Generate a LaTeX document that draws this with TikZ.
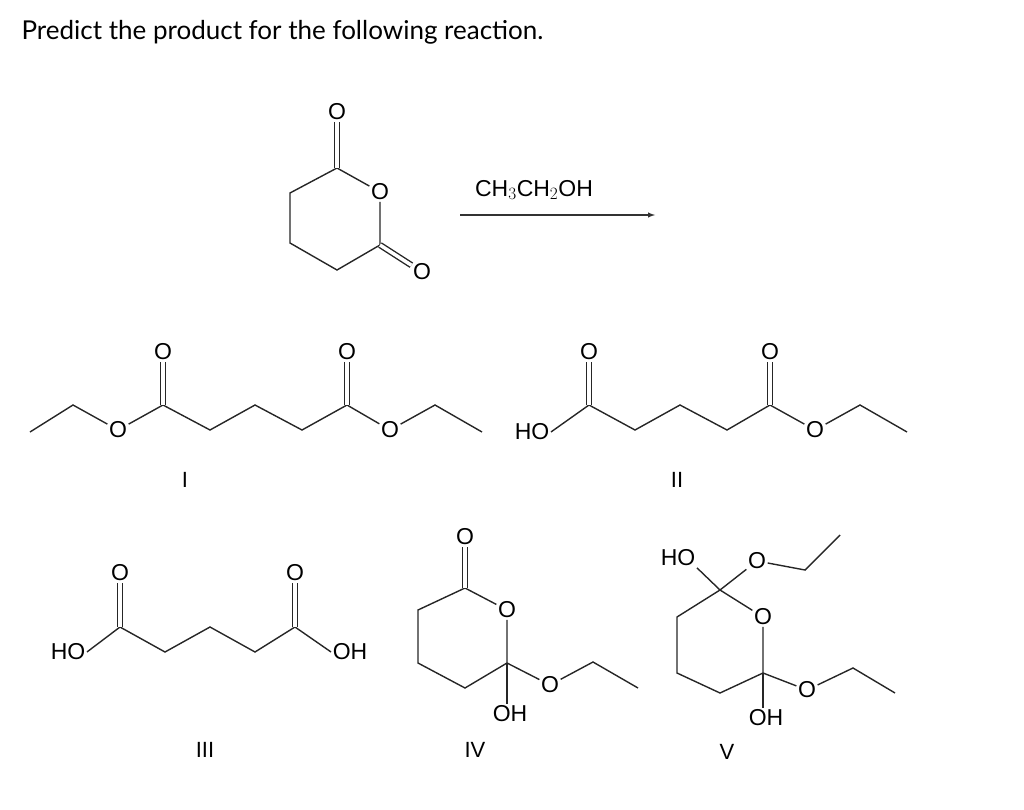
\documentclass[tikz,border=0pt]{standalone}
\usepackage{fontspec}
\setmainfont{Liberation Sans}
\newfontfamily\titlefont{Lato}
\begin{document}
\begin{tikzpicture}[x=1pt,y=-1pt,
  bond/.style={line width=1.4pt,black!85},
  dbl/.style={line width=1.4pt,double,double distance=3.5pt,black!85},
  atom/.style={inner sep=1.5pt,font=\fontsize{23}{23}\selectfont},
  lab/.style={font=\fontsize{22}{22}\selectfont}]
\useasboundingbox (0,0) rectangle (1024,810);
\node[anchor=west,font=\titlefont\fontsize{26}{26}\selectfont] (title) at (18,32) {Predict the product for the following reaction.};
% starting anhydride
\coordinate (a1) at (337,168); \node[atom] (ao1) at (337,112) {O};
\node[atom] (ao) at (380,192) {O}; \coordinate (a2) at (380,245);
\node[atom] (ao2) at (422,272) {O};
\coordinate (a3) at (337,270); \coordinate (a4) at (290,243); \coordinate (a5) at (290,193);
\draw[bond] (a1)--(ao)--(a2)--(a3)--(a4)--(a5)--(a1);
\draw[dbl] (a1)--(ao1); \draw[dbl] (a2)--(ao2);
\node[font=\fontsize{23}{23}\selectfont] (reag) at (534,190) {CH$_3$CH$_2$OH};
\coordinate (ar1) at (460,215); \coordinate (ar2) at (655,215);
\draw[line width=1.4pt,black!80,-latex] (ar1)--(ar2);
% I
\coordinate (i1) at (30,432); \coordinate (i2) at (73,405); \node[atom] (io1) at (118,430) {O};
\coordinate (i3) at (163,405); \node[atom] (io2) at (163,352) {O};
\coordinate (i4) at (210,430); \coordinate (i5) at (255,405); \coordinate (i6) at (302,430);
\coordinate (i7) at (347,405); \node[atom] (io3) at (347,352) {O};
\node[atom] (io4) at (390,430) {O}; \coordinate (i8) at (435,405); \coordinate (i9) at (482,432);
\draw[bond] (i1)--(i2)--(io1)--(i3)--(i4)--(i5)--(i6)--(i7)--(io4)--(i8)--(i9);
\draw[dbl] (i3)--(io2); \draw[dbl] (i7)--(io3);
\node[lab] (l1) at (185,480) {I};
% II
\node[atom] (h1) at (532,432) {HO}; \coordinate (h2) at (589,405); \node[atom] (ho1) at (589,352) {O};
\coordinate (h3) at (635,430); \coordinate (h4) at (680,405); \coordinate (h5) at (727,430);
\coordinate (h6) at (770,405); \node[atom] (ho2) at (770,352) {O};
\node[atom] (ho3) at (815,430) {O}; \coordinate (h7) at (860,405); \coordinate (h8) at (907,432);
\draw[bond] (h1.east)--(h2)--(h3)--(h4)--(h5)--(h6)--(ho3)--(h7)--(h8);
\draw[dbl] (h2)--(ho1); \draw[dbl] (h6)--(ho2);
\node[lab] (l2) at (677,480) {II};
% III
\node[atom] (t1) at (68,652) {HO}; \coordinate (t2) at (120,627); \node[atom] (to1) at (120,573) {O};
\coordinate (t3) at (165,652); \coordinate (t4) at (210,627); \coordinate (t5) at (255,652);
\coordinate (t6) at (295,627); \node[atom] (to2) at (295,573) {O};
\node[atom] (t7) at (350,652) {OH};
\draw[bond] (t1.east)--(t2)--(t3)--(t4)--(t5)--(t6)--(t7.west);
\draw[dbl] (t2)--(to1); \draw[dbl] (t6)--(to2);
\node[lab] (l3) at (205,750) {III};
% IV
\coordinate (f1) at (465,588); \node[atom] (fo1) at (465,537) {O};
\node[atom] (fo) at (507,610) {O}; \coordinate (f2) at (507,663);
\coordinate (f3) at (465,688); \coordinate (f4) at (418,663); \coordinate (f5) at (418,610);
\node[atom] (foh) at (510,714) {OH}; \node[atom] (fo2) at (550,685) {O};
\coordinate (f6) at (593,662); \coordinate (f7) at (638,688);
\draw[bond] (f1)--(fo)--(f2)--(f3)--(f4)--(f5)--(f1);
\draw[dbl] (f1)--(fo1);
\draw[bond] (f2)--(foh.north-|f2); \draw[bond] (f2)--(fo2)--(f6)--(f7);
\node[lab] (l4) at (475,750) {IV};
% V
\coordinate (v1) at (720,590); \node[atom] (vho) at (678,558) {HO};
\node[atom] (vo1) at (757,561) {O}; \coordinate (v2) at (805,570); \coordinate (v3) at (840,535);
\node[atom] (vo) at (763,617) {O}; \coordinate (v4) at (763,673);
\node[atom] (voh) at (766,718) {OH}; \coordinate (v5) at (720,693);
\coordinate (v6) at (677,673); \coordinate (v7) at (677,617);
\node[atom] (vo2) at (807,690) {O}; \coordinate (v8) at (853,668); \coordinate (v9) at (895,693);
\draw[bond] (v1)--(vo)--(v4)--(v5)--(v6)--(v7)--(v1);
\draw[bond] (v1)--(vho.south east); \draw[bond] (v1)--(vo1)--(v2)--(v3);
\draw[bond] (v4)--(voh.north-|v4); \draw[bond] (v4)--(vo2)--(v8)--(v9);
\node[lab] (l5) at (727,752) {V};
\end{tikzpicture}
\end{document}
